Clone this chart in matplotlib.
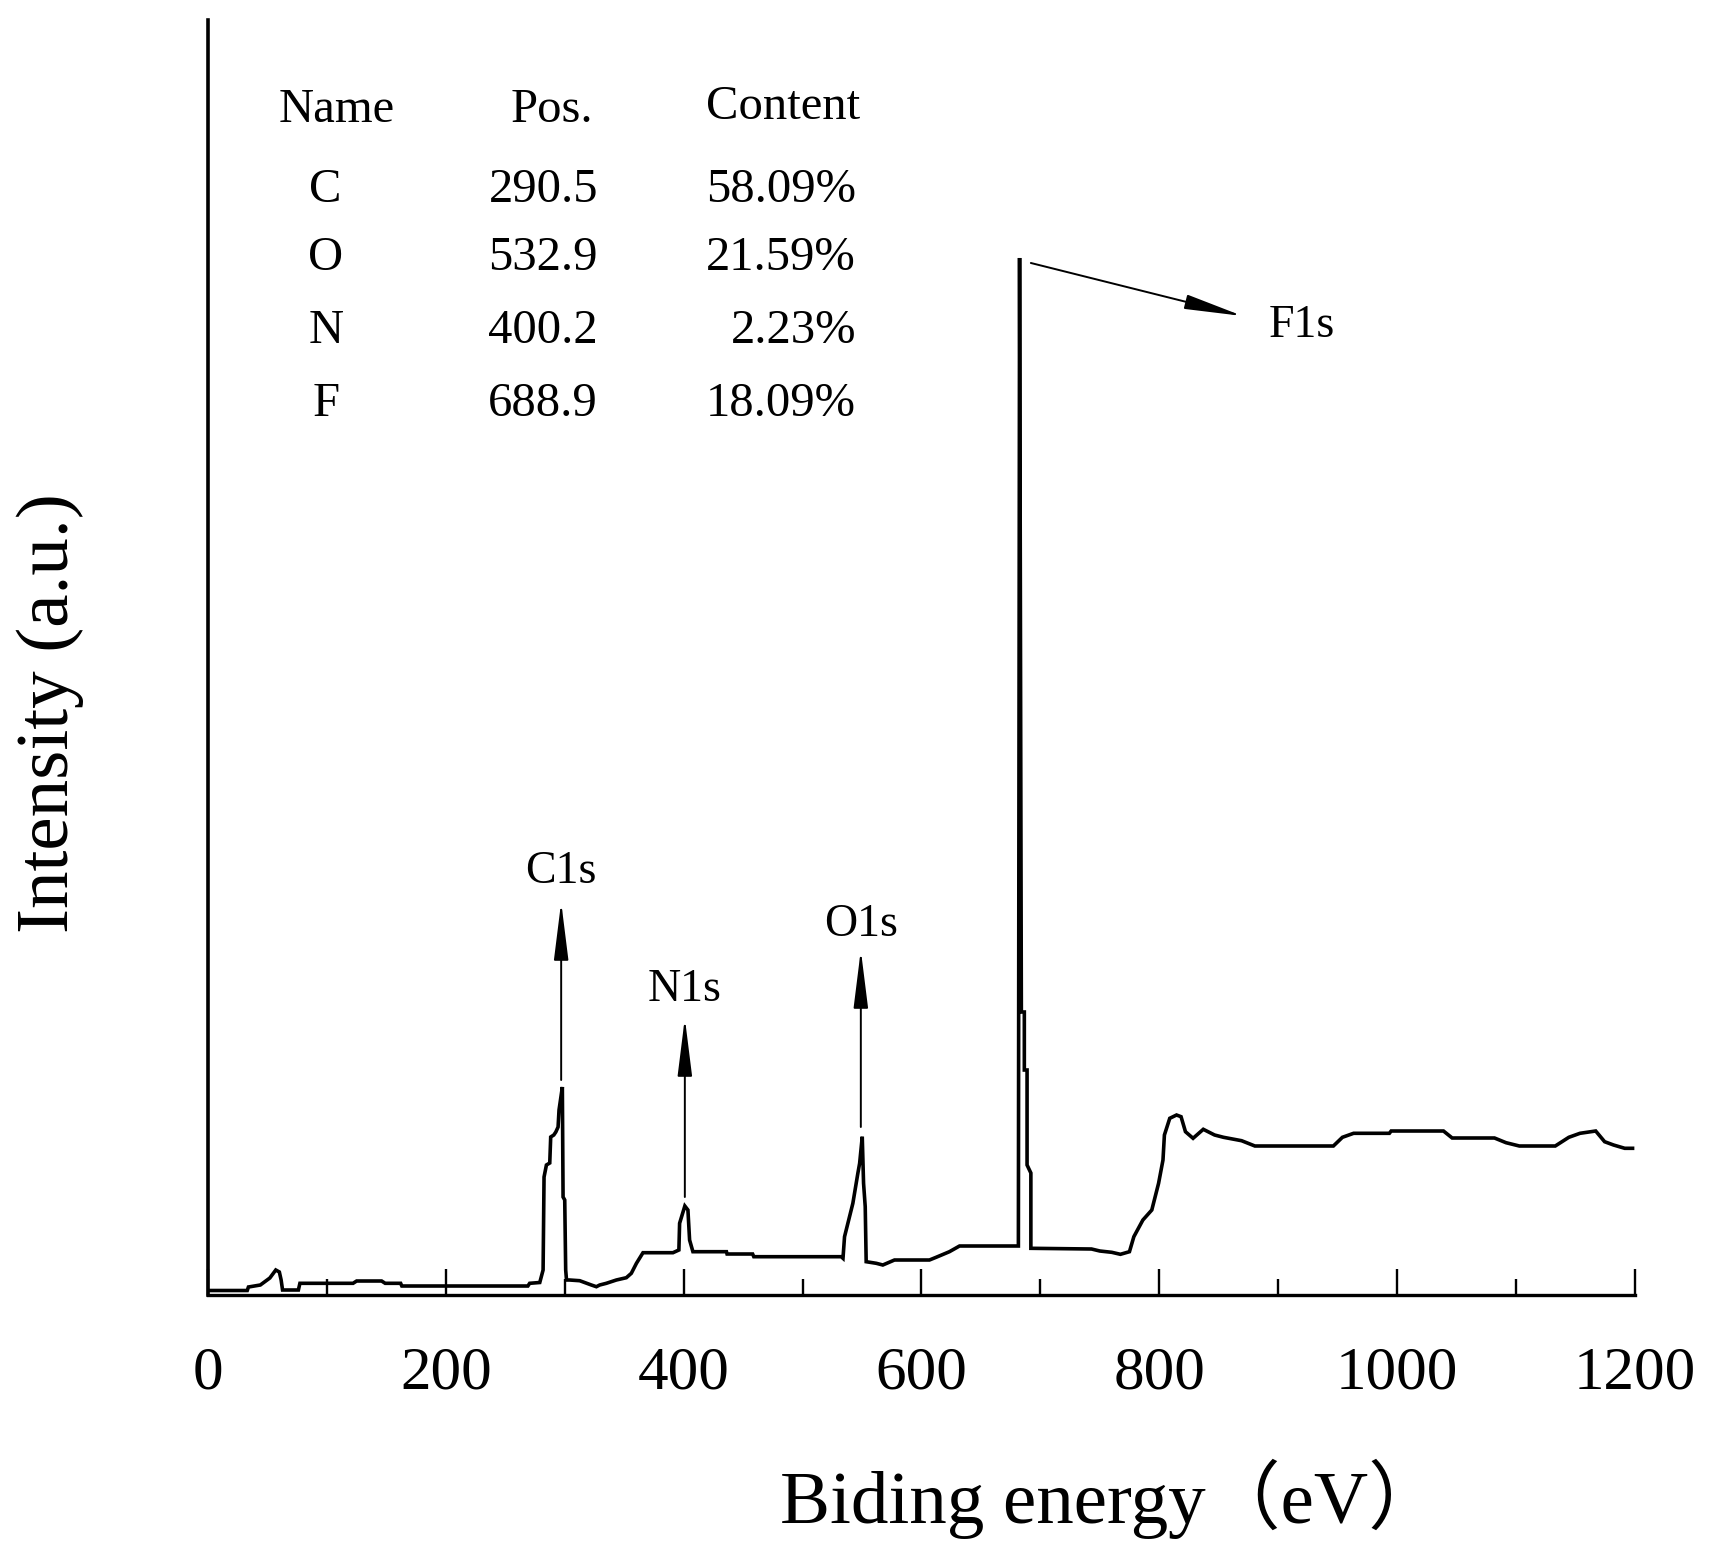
import matplotlib.pyplot as plt

plt.rcParams['font.family'] = ['Liberation Serif', 'Noto Sans CJK SC']

# survey spectrum (intensity in arbitrary units)
energy = [0, 33, 34, 44, 52, 57, 60, 61.5, 62.7, 76, 77.3, 122, 125, 146, 149, 162, 163,
          269, 270.5, 279, 281.8, 282.6, 284.6, 287.4, 288.2, 290.8, 292.5, 294.4, 295.2,
          298, 298.6, 300, 300.8, 301.5, 304, 312.6, 322.4, 326.6, 329.4, 335, 343.4,
          351.8, 356, 360.3, 365.8, 391, 396, 396.6, 401, 403.6, 405, 407.8, 436, 436.5,
          458, 459, 532.5, 534, 535.3, 542.3, 546.5, 548, 550.2, 551.3, 552.7, 553.5,
          562, 567.5, 577.3, 606.7, 612.3, 623.5, 632, 681.5, 682.5, 684, 686.5, 686.5,
          688.8, 688.8, 692, 692, 743, 750, 760, 767.3, 774.9, 778.6, 786.2, 793.7,
          799.4, 803.1, 804.3, 808.8, 814.5, 818.3, 822, 828.4, 837, 846.5, 854, 869.2,
          880.4, 946.4, 954, 963.4, 993.5, 995, 1039, 1046.3, 1081.9, 1091.6, 1102.8,
          1133, 1144.4, 1153.8, 1167, 1174.5, 1182, 1191.4, 1198]
intensity = [4.5, 4.5, 8, 10, 17, 25, 23, 15, 5, 5, 11.7, 11.7, 14, 14, 11.7, 11.7, 9,
             9, 11.7, 12.5, 25, 118, 130, 132, 158, 160, 163, 168, 185,
             208, 98, 95, 25, 15, 15, 14.3, 10, 8.3, 10, 11.7, 15,
             17.3, 21.7, 31.7, 42.3, 42.3, 45, 71.7, 89, 85, 55, 43.3, 43.3, 41,
             41, 38.3, 38.3, 36.7, 58.3, 91.7, 121.7, 131.7, 158.3, 111.7, 88.3, 33.3,
             31.7, 30, 35, 35, 37.7, 43.3, 49, 49, 1037, 283, 283, 225,
             225, 130, 122, 46.7, 46, 44, 42.7, 40.7, 43.3, 58.3, 75, 85,
             111.7, 135, 160, 176.7, 180, 178.3, 163.3, 156.7, 165.7, 160, 157.7, 154.3,
             149, 149, 157.7, 161.7, 161.7, 164, 164, 157, 157, 152.3, 149,
             149, 157.7, 161.7, 164, 153.3, 150, 146.7, 146.7]

# peak labels: name, arrow x, arrow tail y, arrow tip y, label y
peak_names = ['C1s', 'N1s', 'O1s']
peak_x = [297, 401, 549]
peak_tail = [215, 98, 168]
peak_tip = [393, 277, 345]
peak_label_y = [423, 305, 370]

# composition table
tab_names = ['C', 'O', 'N', 'F']
tab_pos = ['290.5', '532.9', '400.2', '688.9']
tab_content = ['58.09%', '21.59%', '2.23%', '18.09%']

fig = plt.figure(figsize=(17.19, 15.61), dpi=100)
ax = fig.add_axes([0.1210, 0.1704, 0.8301, 0.8168])

ax.plot(energy, intensity, color='black', lw=2.6, solid_joinstyle='miter')
ax.set_xlim(0, 1200)
ax.set_ylim(0, 1275)

for s in ['top', 'right']:
    ax.spines[s].set_visible(False)
ax.spines['left'].set_linewidth(2.6)
ax.spines['bottom'].set_linewidth(2.4)

ax.set_yticks([])
ax.set_xticks(range(0, 1201, 200))
ax.set_xticks(range(100, 1200, 200), minor=True)
ax.tick_params(axis='x', which='major', direction='in', length=18.5, width=1.7,
               labelsize=44, pad=37)
ax.tick_params(axis='x', which='minor', direction='in', length=11.5, width=1.7)

arrow = dict(arrowstyle='-|>,head_length=3.6,head_width=0.45', mutation_scale=10,
             lw=1.4, color='black', shrinkA=0, shrinkB=0)
for name, x, y0, y1, ly in zip(peak_names, peak_x, peak_tail, peak_tip, peak_label_y):
    ax.annotate('', xy=(x, y1), xytext=(x, y0), arrowprops=arrow)
    ax.text(x, ly, name, ha='center', va='center', fontsize=33)

ax.annotate('', xy=(870, 979), xytext=(692, 1032), arrowprops=arrow)
ax.text(892, 969, 'F1s', ha='left', va='center', fontsize=33)

# table in the upper left corner
row_y = [1105, 1037, 964, 891]
ax.text(108, 1185, 'Name', ha='center', va='center', fontsize=35)
ax.text(289, 1185, 'Pos.', ha='center', va='center', fontsize=35)
ax.text(484, 1188, 'Content', ha='center', va='center', fontsize=35)
for n, p, c, y in zip(tab_names, tab_pos, tab_content, row_y):
    ax.text(99, y, n, ha='center', va='center', fontsize=35)
    ax.text(328, y, p, ha='right', va='center', fontsize=35)
    ax.text(545, y, c, ha='right', va='center', fontsize=35)

fig.text(1112 / 1719, 1 - 1499 / 1561, 'Biding energy（eV）', ha='center', va='center',
         fontsize=54)
fig.text(50 / 1719, 1 - 713 / 1561, 'Intensity (a.u.)', rotation=90, ha='center',
         va='center', fontsize=54)

fig.savefig('out.png', dpi=100)
